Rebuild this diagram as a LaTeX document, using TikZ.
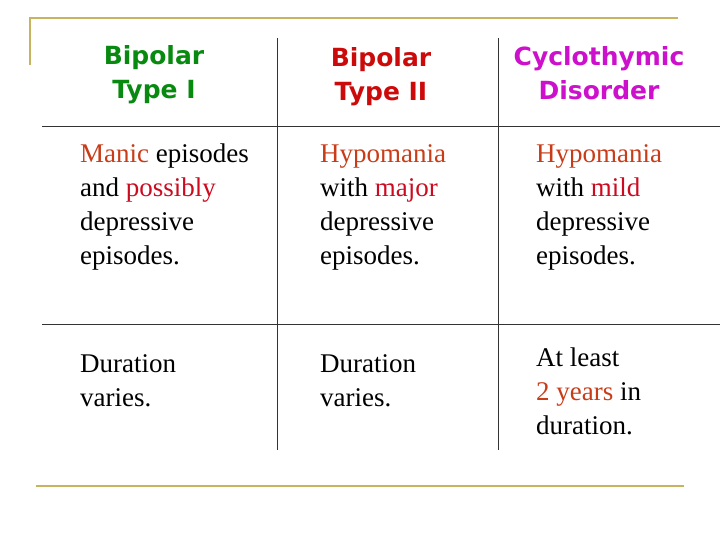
\documentclass[tikz,border=0pt]{standalone}
\usepackage{fontspec}
\setmainfont{Liberation Serif}
\newfontfamily\headfont{DejaVu Sans}
\usetikzlibrary{positioning}
\definecolor{gold}{HTML}{C8B45E}
\definecolor{hgreen}{HTML}{088A10}
\definecolor{hred}{HTML}{CC0A0A}
\definecolor{hmag}{HTML}{CC10CC}
\definecolor{orng}{HTML}{C83C18}
\definecolor{rred}{HTML}{CC0A20}
\begin{document}
\begin{tikzpicture}[
		x=1pt,y=-1pt,
		head/.style={align=center,inner sep=0pt,anchor=base,font=\headfont\bfseries\fontsize{25}{34}\selectfont},
		cell/.style={align=left,inner sep=0pt,anchor=base west,font=\fontsize{27}{34}\selectfont},
		rule/.style={draw=black!80,line width=0.8pt},
		goldline/.style={draw=gold,line width=2pt}
	]

		\useasboundingbox (0,0) rectangle (720,540);
		\draw[goldline] (30,65) -- (30,18) -- (678,18);
		\draw[goldline] (36,486) -- (684,486);

		\coordinate (L1) at (42,126);
		\coordinate (R1) at (720,126);
		\coordinate (L2) at (42,324);
		\coordinate (R2) at (720,324);
		\coordinate (T1) at (277,38);
		\coordinate (B1) at (277,450);
		\coordinate (T2) at (498,38);
		\coordinate (B2) at (498,450);
		\draw[rule] (L1) -- (R1);
		\draw[rule] (L2) -- (R2);
		\draw[rule] (T1) -- (B1);
		\draw[rule] (T2) -- (B2);

		\node[head,text=hgreen] (H1) at (154,99) {Bipolar\\Type I};
		\node[head,text=hred] (H2) at (381,101) {Bipolar\\Type II};
		\node[head,text=hmag] (H3) at (599,100) {Cyclothymic\\Disorder};

		\node[cell] (E1) at (80,264) {\textcolor{orng}{Manic} episodes\\and \textcolor{rred}{possibly}\\depressive\\episodes.};
		\node[cell] (E2) at (320,264) {\textcolor{orng}{Hypomania}\\with \textcolor{rred}{major}\\depressive\\episodes.};
		\node[cell] (E3) at (536,264) {\textcolor{orng}{Hypomania}\\with \textcolor{rred}{mild}\\depressive\\episodes.};

		\node[cell] (D1) at (80,406) {Duration\\varies.};
		\node[cell] (D2) at (320,406) {Duration\\varies.};
		\node[cell] (D3) at (536,434) {At least\\\textcolor{orng}{2 years} in\\duration.};
	\end{tikzpicture}
\end{document}
